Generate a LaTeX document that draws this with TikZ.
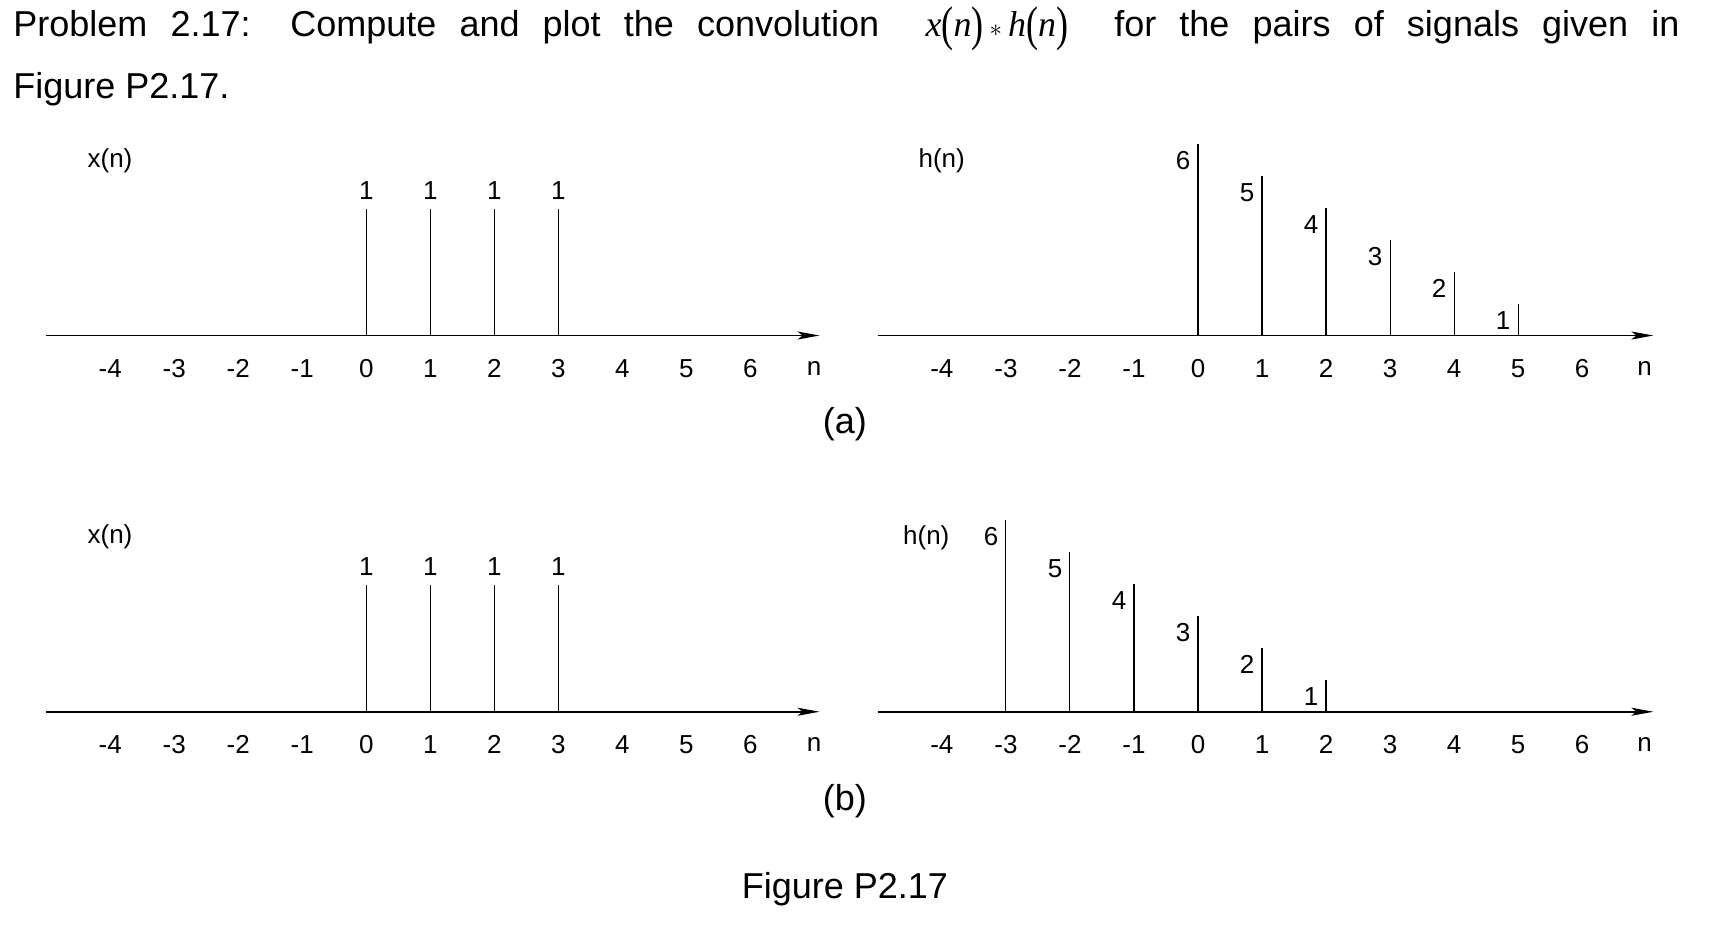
\documentclass[tikz,border=0pt]{standalone}
\usepackage{fontspec}
\setmainfont{Liberation Sans}
\newfontfamily\serifit{Liberation Serif}
\usepackage{graphicx}
\usetikzlibrary{arrows.meta}
\newcommand{\tallp}[1]{\raisebox{-0.12em}{\scalebox{1}[1.35]{\upshape #1}}}
\begin{document}
\begin{tikzpicture}[x=1.1pt,y=-1.1pt,
  axis/.style={line width=1.8pt,-{Stealth[length=22pt,width=8pt,inset=5pt]}},
  stem/.style={line width=1.1pt},
  tick/.style={font=\fontsize{26}{30}\selectfont},
  big/.style={font=\fontsize{36}{62}\selectfont}]
\useasboundingbox (0,0) rectangle (1569,842);
\node[big,anchor=north west,text width=1666pt,align=justify,inner sep=0pt] (title) at (12,6)
 {Problem 2.17: Compute and plot the convolution \ {\serifit\itshape x\tallp{(}n\tallp{)}\,\upshape$*$\,\itshape h\tallp{(}n\tallp{)}}\ \ for the pairs of signals given in\linebreak Figure P2.17.\par};
\foreach \ay/\lab/\sh in {305/a/0,647/b/-3}{
  \coordinate (L0\lab) at (42,\ay); \coordinate (L1\lab) at (745,\ay);
  \draw[axis] (L0\lab) -- (L1\lab);
  \foreach \k in {-4,...,6} \node[tick] at (333+58.2*\k,\ay+30) {\k};
  \node[tick] at (740,\ay+30) {n};
  \node[tick] at (100,\ay-159) {x(n)};
  \foreach \k in {0,...,3}{
    \draw[stem] (333+58.2*\k,\ay) -- (333+58.2*\k,\ay-115);
    \node[tick] at (333+58.2*\k,\ay-132) {1};}
  \coordinate (R0\lab) at (798,\ay); \coordinate (R1\lab) at (1503,\ay);
  \draw[axis] (R0\lab) -- (R1\lab);
  \foreach \k in {-4,...,6} \node[tick] at (1089+58.2*\k,\ay+30) {\k};
  \node[tick] at (1495,\ay+30) {n};
  \foreach \v [evaluate=\v as \xx using {1089+58.2*(6-\v+\sh)}] in {6,5,4,3,2,1}{
    \draw[stem] (\xx,\ay) -- (\xx,\ay-29*\v);
    \node[tick,anchor=east,inner sep=2pt] at (\xx-5,\ay-29*\v+15) {\v};}
}
\node[tick] at (856,146) {h(n)};
\node[tick] at (842,489) {h(n)};
\node[big] at (768,386) {(a)};
\node[big] at (768,728) {(b)};
\node[big] at (768,808) {Figure P2.17};
\end{tikzpicture}
\end{document}
